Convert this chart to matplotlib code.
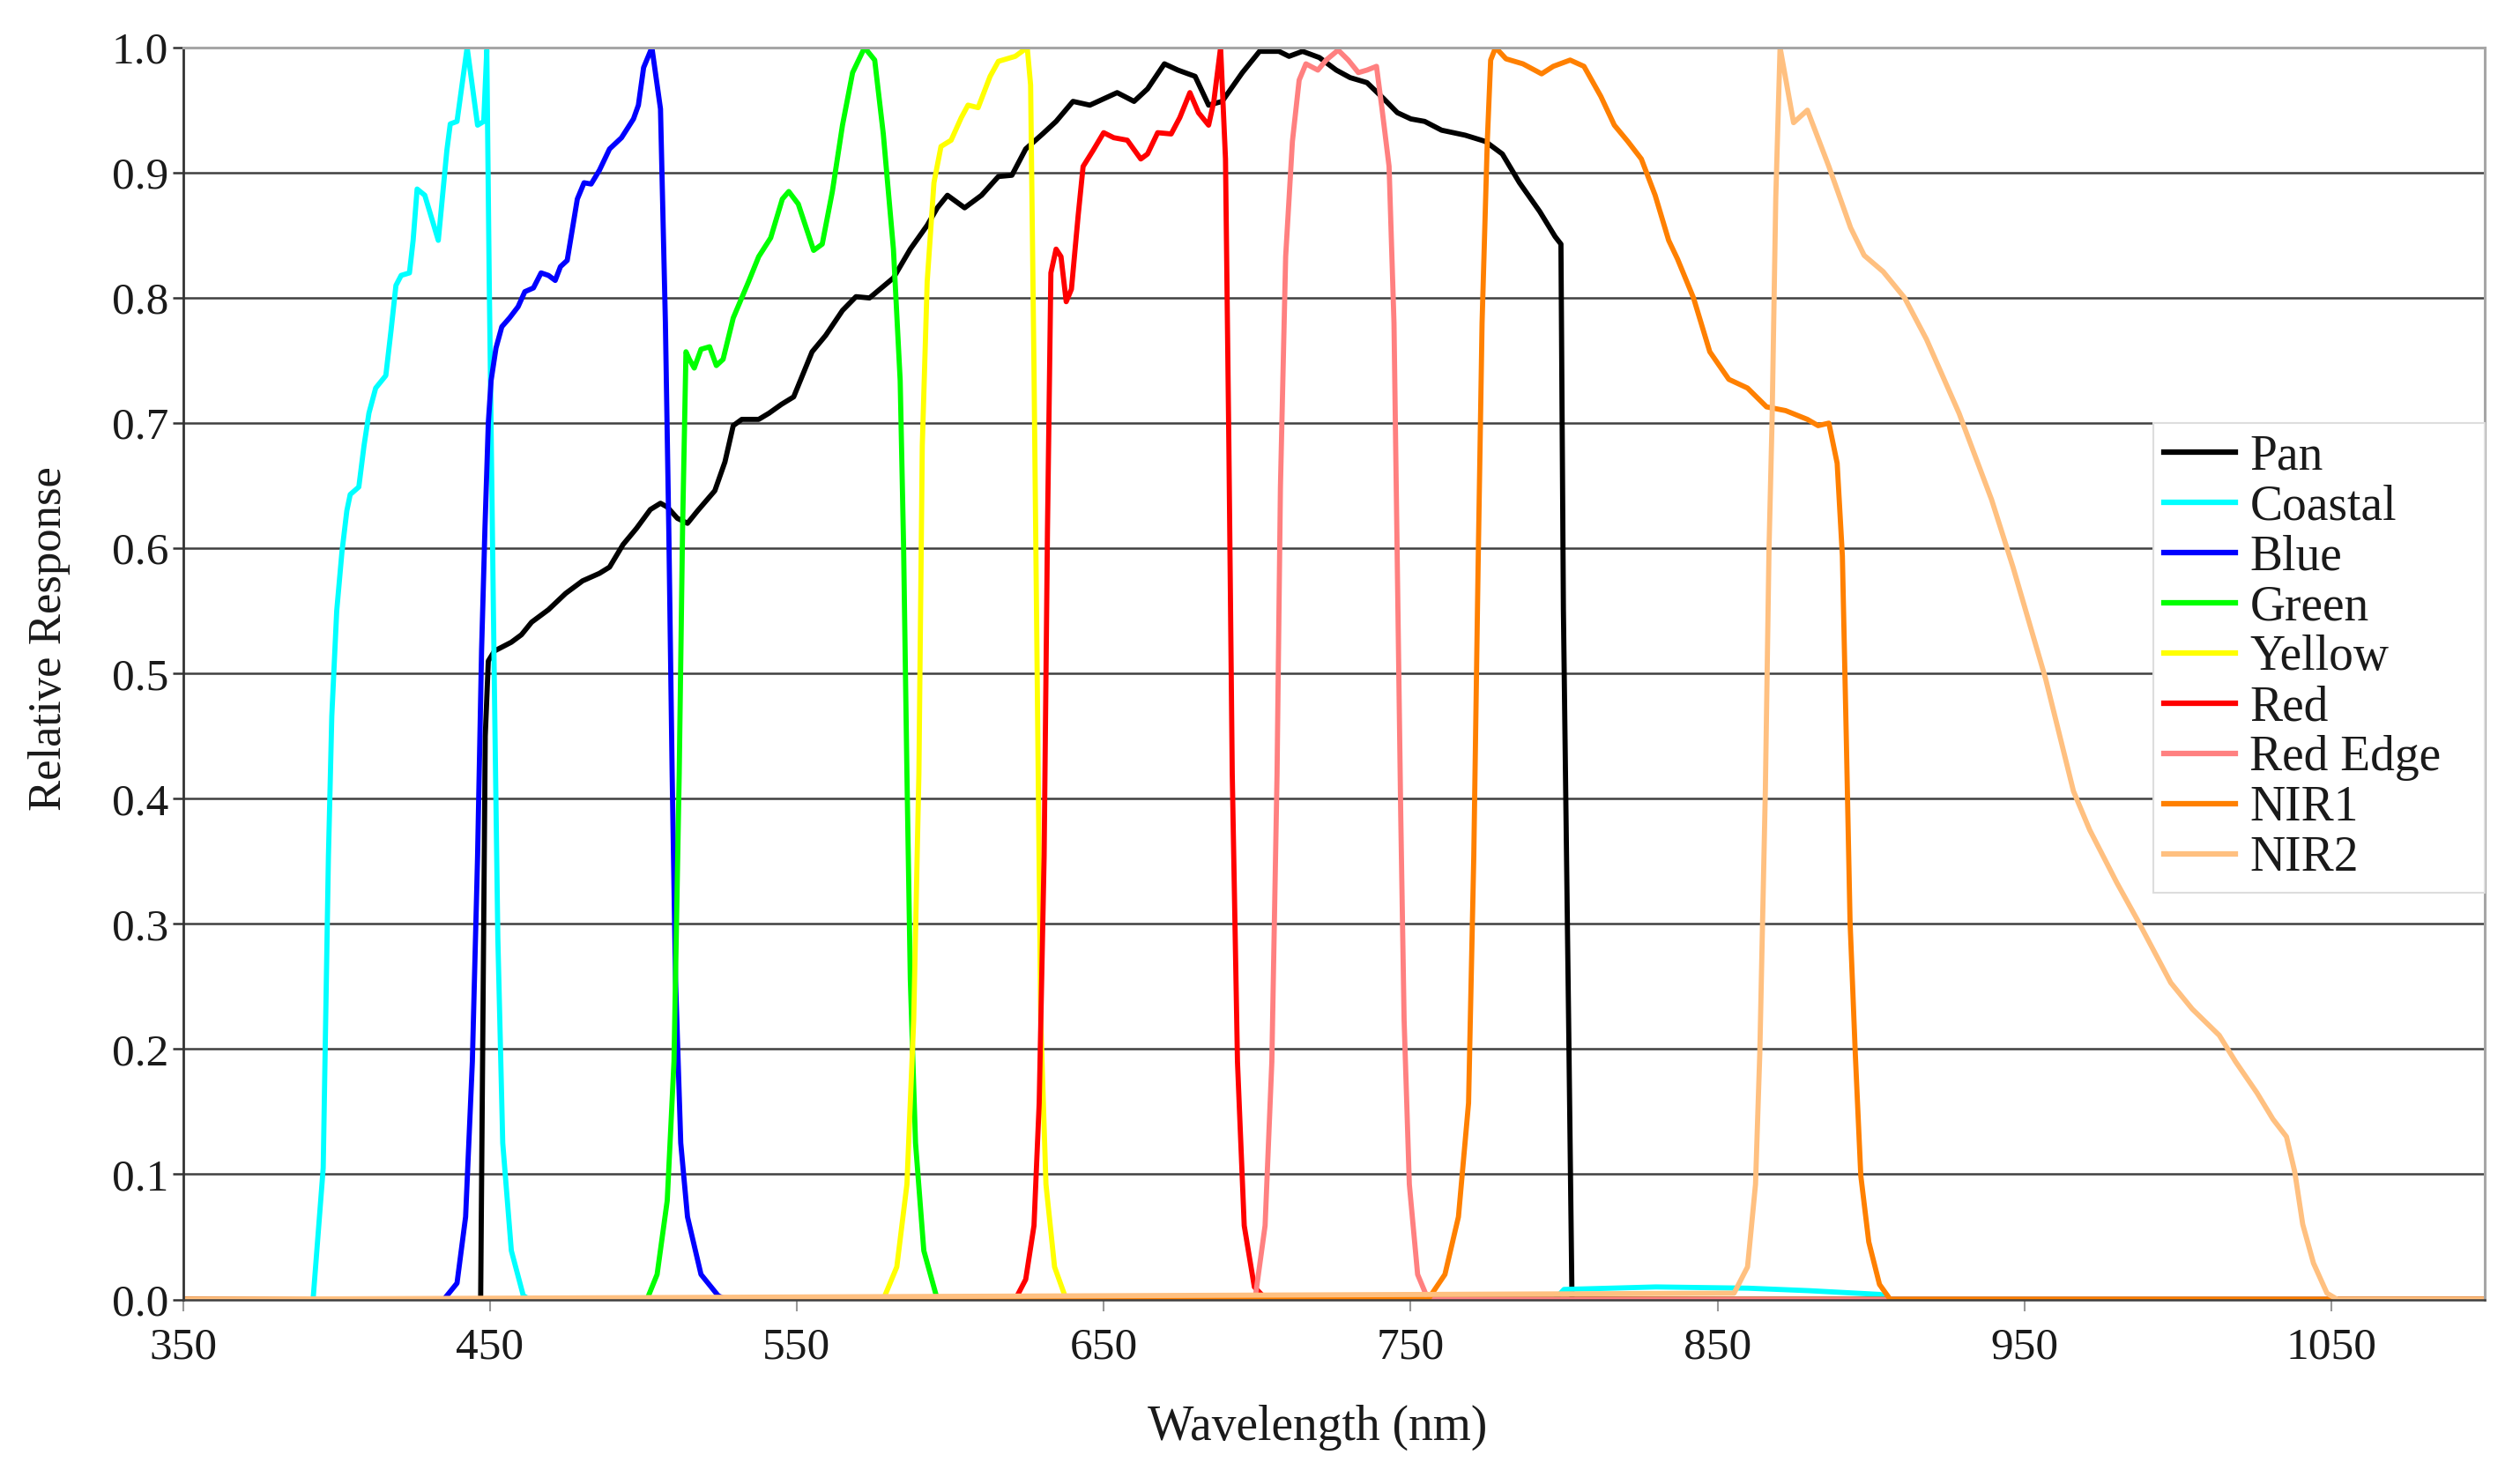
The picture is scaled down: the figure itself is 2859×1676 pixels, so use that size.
import matplotlib
matplotlib.use("Agg")
import matplotlib.pyplot as plt
from matplotlib.patches import Rectangle

# relative spectral response
pan_wl = [350, 447, 448.5, 449.5, 451.5, 457, 460.3, 463.6, 469.1, 474.7, 480.2, 485.7, 489, 493.4,
          497.8, 502.3, 505.6, 507.8, 511.1, 514.4, 517.7, 523.3, 526.6, 529.3, 532.1, 537.6, 541,
          545, 549, 555, 559.4, 564.9, 569.3, 573.7, 581.5, 587, 592.5, 595.8, 599.1, 604.7, 610.2,
          615.7, 620.1, 624.6, 630.1, 634.5, 640, 645.5, 654.4, 659.9, 664.3, 669.8, 674.2, 679.8,
          684.2, 688.6, 695.2, 700.8, 707.1, 710.4, 714.8, 720.3, 725.8, 730.3, 735.8, 741.3, 745.7,
          750.1, 754.6, 760.1, 767.8, 774.4, 779.9, 785.5, 792.1, 797.1, 799, 799.8, 801.5, 802.6, 1100]
pan_r = [0, 0, 0.45, 0.51, 0.518, 0.525, 0.531, 0.541, 0.551, 0.564, 0.574, 0.58, 0.585, 0.603,
         0.616, 0.631, 0.636, 0.633, 0.624, 0.62, 0.63, 0.646, 0.669, 0.698, 0.703, 0.703, 0.708,
         0.715, 0.721, 0.757, 0.77, 0.79, 0.801, 0.80, 0.816, 0.839, 0.858, 0.872, 0.882, 0.872, 0.882,
         0.897, 0.898, 0.919, 0.931, 0.941, 0.957, 0.954, 0.964, 0.957, 0.967, 0.987, 0.982, 0.977,
         0.954, 0.957, 0.98, 0.997, 0.997, 0.993, 0.997, 0.992, 0.982, 0.976, 0.972, 0.959, 0.948,
         0.943, 0.941, 0.934, 0.93, 0.925, 0.915, 0.892, 0.869, 0.849, 0.843, 0.551, 0.223, 0, 0]

coastal_wl = [350, 392.4, 395.7, 397.4, 398.5, 400.1, 401.8, 403.4, 404.5, 407.3, 409, 410.6, 412.8,
              416.1, 417.8, 419.4, 421.1, 423.8, 425, 426.3, 428.8, 433.2, 436, 437.1, 439.3, 442.6,
              446, 448, 449, 449.8, 451.5, 452.6, 454.2, 457, 460.9, 463, 797, 800, 830, 860, 880,
              903, 906, 1100]
coastal_r = [0, 0, 0.105, 0.354, 0.466, 0.55, 0.597, 0.63, 0.643, 0.649, 0.682, 0.708, 0.728,
             0.738, 0.774, 0.81, 0.818, 0.82, 0.846, 0.887, 0.882, 0.846, 0.918, 0.939, 0.941, 1.0,
             0.938, 0.941, 0.998, 0.813, 0.485, 0.289, 0.125, 0.039, 0.003, 0, 0, 0.008, 0.01, 0.009,
             0.007, 0.004, 0, 0]

blue_wl = [350, 435, 439.3, 442.1, 444.3, 446, 447.3, 448.4, 449.5, 450.4, 452, 453.9, 456.4, 459.2,
           461.4, 464.2, 466.7, 469.1, 471.3, 473, 475.2, 478.5, 480.7, 483, 485.7, 489, 492.9, 496.8,
           498.4, 500.1, 502.8, 505.6, 507.2, 508.3, 509.4, 510.5, 512.2, 514.4, 518.8, 524.4, 527, 1100]
blue_r = [0, 0, 0.013, 0.066, 0.19, 0.354, 0.518, 0.616, 0.70, 0.734, 0.76, 0.777, 0.784, 0.793,
          0.805, 0.808, 0.82, 0.818, 0.814, 0.825, 0.83, 0.879, 0.892, 0.891, 0.902, 0.919, 0.928, 0.943,
          0.954, 0.984, 1.0, 0.951, 0.78, 0.616, 0.42, 0.256, 0.125, 0.066, 0.02, 0.003, 0, 0]

green_wl = [350, 501.2, 504.5, 507.8, 510, 511.7, 512.8, 513.9, 515, 516.6, 518.8, 521.6, 523.8, 526,
            529.3, 534.3, 537.6, 541.5, 545.3, 547.4, 550.5, 555.5, 558.3, 561.6, 564.9, 568.2, 572.1,
            575.4, 578.2, 581.5, 583.7, 584.8, 585.9, 587, 588.7, 591.4, 595.8, 1100]
green_r = [0, 0, 0.02, 0.079, 0.19, 0.42, 0.616, 0.757, 0.751, 0.744, 0.759, 0.761, 0.746, 0.751,
           0.784, 0.813, 0.833, 0.848, 0.879, 0.885, 0.875, 0.838, 0.843, 0.885, 0.938, 0.98, 1.0,
           0.99, 0.931, 0.839, 0.734, 0.603, 0.42, 0.256, 0.125, 0.039, 0, 0]

yellow_wl = [350, 578.2, 582.6, 585.9, 588.1, 589.8, 590.9, 592.5, 594.7, 597, 600.3, 603.6, 605.8,
             609.1, 613, 615.7, 621.2, 625.1, 626.2, 627.3, 628.4, 629.5, 631.2, 634, 637.8, 1100]
yellow_r = [0, 0, 0.026, 0.092, 0.223, 0.42, 0.682, 0.813, 0.892, 0.921, 0.926, 0.944, 0.954,
            0.952, 0.977, 0.989, 0.993, 1.0, 0.97, 0.744, 0.485, 0.223, 0.092, 0.026, 0, 0]

red_wl = [350, 621.2, 624.6, 627.3, 629, 630.6, 631.7, 632.8, 634.5, 636.1, 637.8, 639.5, 641.7, 643.3,
          646.6, 650, 653.3, 657.7, 662.1, 664.3, 667.6, 672, 674.8, 678.1, 680.9, 684.2, 685.9, 688.1,
          689.7, 690.8, 691.9, 693.6, 695.8, 699.1, 703, 1100]
red_r = [0, 0, 0.016, 0.059, 0.157, 0.354, 0.616, 0.82, 0.839, 0.833, 0.797, 0.807, 0.866, 0.905,
         0.918, 0.932, 0.928, 0.926, 0.911, 0.915, 0.932, 0.931, 0.944, 0.964, 0.948, 0.938, 0.957, 1.0,
         0.911, 0.682, 0.42, 0.19, 0.059, 0.01, 0, 0]

rededge_wl = [350, 699.3, 702.6, 704.8, 706.5, 707.6, 709.3, 711.5, 713.7, 715.9, 719.8, 722.5, 726.4,
              729.7, 733, 735.8, 738.9, 740.7, 743, 744.6, 745.7, 746.8, 747.9, 749.6, 752.3, 755.7, 1100]
rededge_r = [0, 0, 0.059, 0.19, 0.42, 0.649, 0.833, 0.925, 0.974, 0.987, 0.982, 0.99, 0.998,
             0.99, 0.98, 0.982, 0.985, 0.951, 0.905, 0.78, 0.584, 0.387, 0.223, 0.092, 0.02, 0, 0]

nir1_wl = [350, 755.7, 761.2, 765.6, 768.9, 770.6, 772, 773.3, 775, 776.1, 777.7, 781.1, 786.6, 792.7,
           796.5, 802, 806.5, 812, 816.4, 820.8, 825.2, 829.7, 834.1, 837, 842.2, 847.5, 853.7, 859.8,
           866, 872.2, 879.3, 882.8, 886.3, 889, 890.7, 892, 893.2, 894.9, 896.7, 899.3, 902.8, 906.3, 1100]
nir1_r = [0, 0, 0.02, 0.066, 0.157, 0.354, 0.584, 0.78, 0.925, 0.99, 1.0, 0.991, 0.987, 0.979,
          0.985, 0.99, 0.985, 0.961, 0.938, 0.925, 0.911, 0.882, 0.846, 0.831, 0.80, 0.757, 0.735, 0.728,
          0.713, 0.71, 0.703, 0.698, 0.70, 0.668, 0.594, 0.446, 0.302, 0.197, 0.099, 0.046, 0.012, 0, 0]

nir2_wl = [350, 855.4, 859.8, 862.4, 863.8, 864.7, 865.6, 866.8, 867.8, 869, 870.4, 874.8, 879.3, 886.3,
           893.4, 897.8, 904, 911, 918.1, 928.7, 939.3, 946.3, 956.9, 966, 971.3, 980.1, 987.1, 997.7,
           1004.7, 1013.5, 1018.8, 1025.8, 1031, 1035.4, 1038.1, 1040.7, 1044.2, 1048.6, 1052, 1100]
nir2_r = [0, 0.005, 0.026, 0.092, 0.197, 0.302, 0.406, 0.6, 0.703, 0.88, 1.0, 0.94, 0.95, 0.905,
          0.856, 0.834, 0.821, 0.80, 0.767, 0.708, 0.639, 0.585, 0.496, 0.406, 0.375, 0.333, 0.302, 0.253,
          0.232, 0.211, 0.19, 0.165, 0.144, 0.13, 0.102, 0.06, 0.029, 0.005, 0, 0]

band_names = ['Pan', 'Coastal', 'Blue', 'Green', 'Yellow', 'Red', 'Red Edge', 'NIR1', 'NIR2']
band_colors = ['#000000', '#00FFFF', '#0000FF', '#00FF00', '#FFFF00', '#FF0000', '#FF8080',
               '#FF8000', '#FFC080']
bands = [(pan_wl, pan_r), (coastal_wl, coastal_r), (blue_wl, blue_r), (green_wl, green_r),
         (yellow_wl, yellow_r), (red_wl, red_r), (rededge_wl, rededge_r), (nir1_wl, nir1_r),
         (nir2_wl, nir2_r)]

x_ticks = [350, 450, 550, 650, 750, 850, 950, 1050]
y_ticks = [0.0, 0.1, 0.2, 0.3, 0.4, 0.5, 0.6, 0.7, 0.8, 0.9, 1.0]


def main():
    plt.rcParams['font.family'] = ['Liberation Serif', 'DejaVu Serif']
    text_color = '#1a1a1a'

    fig = plt.figure(figsize=(28.59, 16.76), dpi=100)
    ax = fig.add_axes([0.0726, 0.1202, 0.9134, 0.8476])

    for (wl, r), name, color in zip(bands, band_names, band_colors):
        ax.plot(wl, r, color=color, lw=4.2, label=name, solid_joinstyle='round')

    ax.set_xlim(350, 1100)
    ax.set_ylim(0, 1.0)
    ax.set_xticks(x_ticks)
    ax.set_yticks(y_ticks)
    ax.set_yticklabels(['%.1f' % v for v in y_ticks])

    ax.yaxis.grid(True, color='#404040', lw=1.8)
    ax.xaxis.grid(False)
    ax.set_axisbelow(True)

    ax.spines['left'].set_color('#333333')
    ax.spines['left'].set_linewidth(2)
    ax.spines['bottom'].set_color('#404040')
    ax.spines['bottom'].set_linewidth(1.8)
    ax.spines['top'].set_color('#a6a6a6')
    ax.spines['top'].set_linewidth(2.2)
    ax.spines['right'].set_color('#a6a6a6')
    ax.spines['right'].set_linewidth(2.2)

    ax.tick_params(axis='y', direction='out', length=9, width=1.8, color='#333333',
                   labelsize=37, labelcolor=text_color, pad=3)
    ax.tick_params(axis='x', direction='out', length=9, width=1.5, color='#999999',
                   labelsize=37, labelcolor=text_color, pad=14)

    ax.set_xlabel('Wavelength (nm)', fontsize=40, color=text_color)
    ax.xaxis.set_label_coords(0.493, -0.084)
    ax.set_ylabel('Relative Response', fontsize=38, color=text_color)
    ax.yaxis.set_label_coords(-0.0487, 0.528)

    # legend without its own frame; a wider box is drawn behind it so that
    # the frame reaches the right border of the plot, as in the original
    leg = ax.legend(loc='upper left', bbox_to_anchor=(0.856, 0.70), borderaxespad=0,
                    fontsize=40, frameon=False, handlelength=1.45, handletextpad=0.3,
                    labelspacing=0.09, borderpad=0.22)
    for t in leg.get_texts():
        t.set_color(text_color)
    for line in leg.get_lines():
        line.set_linewidth(4.5)

    fig.canvas.draw()
    bb = leg.get_window_extent().transformed(ax.transAxes.inverted())
    ax.add_patch(Rectangle((bb.x0, bb.y0), 1.0 - bb.x0, bb.y1 - bb.y0, transform=ax.transAxes,
                           facecolor='white', edgecolor='#dddddd', lw=1.5, zorder=4.5,
                           clip_on=False))

    fig.savefig('out.png', dpi=100, facecolor='white')


if __name__ == '__main__':
    main()
